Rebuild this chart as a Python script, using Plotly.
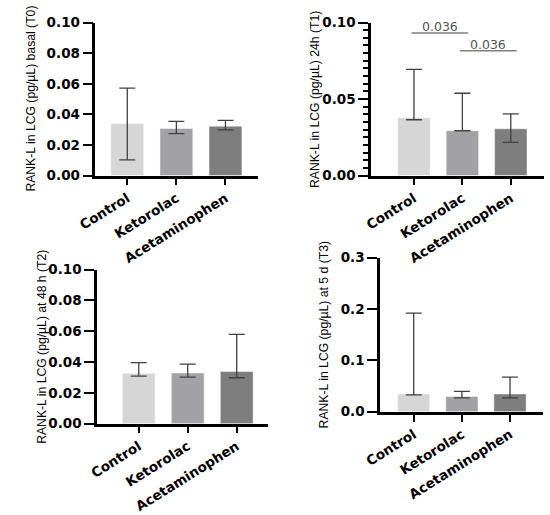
import plotly.graph_objects as go

W, H = 550, 515

categories = ["Control", "Ketorolac", "Acetaminophen"]
bar_colors = ["#d6d6d6", "#a2a1a6", "#7e7e7e"]

# median values and upper/lower bounds (pg/µL)
t0_median = [0.0340, 0.0308, 0.0323]
t0_upper = [0.0571, 0.0354, 0.0361]
t0_lower = [0.0103, 0.0274, 0.0299]

t1_median = [0.0378, 0.0293, 0.0306]
t1_upper = [0.0694, 0.0538, 0.0403]
t1_lower = [0.0365, 0.0293, 0.0217]

t2_median = [0.0327, 0.0329, 0.0338]
t2_upper = [0.0396, 0.0386, 0.0580]
t2_lower = [0.0308, 0.0302, 0.0298]

t3_median = [0.0347, 0.0296, 0.0347]
t3_upper = [0.1920, 0.0396, 0.0674]
t3_lower = [0.0330, 0.0270, 0.0270]

y_titles = [
    "RANK-L in LCG (pg/µL) basal (T0)",
    "RANK-L in LCG (pg/µL) 24h (T1)",
    "RANK-L in LCG (pg/µL) at 48 h (T2)",
    "RANK-L in LCG (pg/µL) at 5 d (T3)",
]

# significance comparisons in panel T1: (group a, group b, p-value label, height)
t1_comparisons = [
    ("Control", "Ketorolac", "0.036", 0.0932),
    ("Ketorolac", "Acetaminophen", "0.036", 0.0816),
]

panels = [
    dict(med=t0_median, up=t0_upper, lo=t0_lower, yr=[0, 0.10], dt=0.02, fmt=".2f",
         px=(80, 248), py=(15, 173), xr=[-0.65, 2.66], title_x=14, minor=False),
    dict(med=t1_median, up=t1_upper, lo=t1_lower, yr=[0, 0.10], dt=0.05, fmt=".2f",
         px=(365, 544), py=(15, 173), xr=[-0.886, 2.69], title_x=307, minor=True),
    dict(med=t2_median, up=t2_upper, lo=t2_lower, yr=[0, 0.10], dt=0.02, fmt=".2f",
         px=(81.7, 258), py=(270, 429), xr=[-0.852, 2.63], title_x=24, minor=False),
    dict(med=t3_median, up=t3_upper, lo=t3_lower, yr=[0, 0.30], dt=0.1, fmt=".1f",
         px=(374.3, 543), py=(257.7, 416.7), xr=[-0.70, 2.69], title_x=316, minor=False),
]

fig = go.Figure()
layout = dict(
    width=W, height=H,
    margin=dict(l=0, r=0, t=0, b=0),
    paper_bgcolor="white", plot_bgcolor="white",
    showlegend=False,
    annotations=[], shapes=[],
)

ytick_font = dict(family="DejaVu Sans", size=13.5, color="black", weight="bold")
xtick_font = dict(family="DejaVu Sans", size=13.5, color="black", weight="bold")

for i, p in enumerate(panels):
    n = i + 1
    xa = "x" if n == 1 else f"x{n}"
    ya = "y" if n == 1 else f"y{n}"
    plus = [u - m for u, m in zip(p["up"], p["med"])]
    minus = [m - l for m, l in zip(p["med"], p["lo"])]
    fig.add_trace(go.Bar(
        x=categories, y=p["med"], xaxis=xa, yaxis=ya,
        marker=dict(color=bar_colors, line=dict(color="rgba(255,255,255,0.6)", width=0.8)),
        width=0.67,
        error_y=dict(type="data", symmetric=False, array=plus, arrayminus=minus,
                     color="#404040", thickness=1.3, width=8),
        hoverinfo="skip",
    ))
    x0, x1 = p["px"][0] / W, p["px"][1] / W
    ytop, ybot = 1 - p["py"][0] / H, 1 - p["py"][1] / H
    xkey = "xaxis" if n == 1 else f"xaxis{n}"
    ykey = "yaxis" if n == 1 else f"yaxis{n}"
    layout[xkey] = dict(
        domain=[x0, x1], anchor=ya, type="category", range=p["xr"],
        showline=True, linecolor="black", linewidth=2.5,
        ticks="outside", ticklen=7, tickwidth=2, tickcolor="black",
        tickangle=-32, tickfont=xtick_font, showgrid=False, zeroline=False,
    )
    yax = dict(
        domain=[ybot, ytop], anchor=xa, range=p["yr"], dtick=p["dt"], tick0=0,
        tickformat=p["fmt"], showline=True, linecolor="black", linewidth=2.5,
        ticks="outside", ticklen=10, tickwidth=2, tickcolor="black",
        tickfont=ytick_font, showgrid=False, zeroline=False,
    )
    if p["minor"]:
        yax["minor"] = dict(dtick=0.005, ticks="outside", ticklen=5, tickwidth=1.5,
                            tickcolor="black", showgrid=False)
    layout[ykey] = yax
    layout["annotations"].append(dict(
        text=y_titles[i], xref="paper", yref="paper",
        x=p["title_x"] / W, y=(ytop + ybot) / 2, textangle=-90,
        showarrow=False, xanchor="center", yanchor="middle",
        font=dict(family="Liberation Sans", size=12.2, color="black"),
    ))

# significance brackets in T1 panel
for a, b, lab, h in t1_comparisons:
    ia, ib = categories.index(a), categories.index(b)
    xs, xe = ia - 0.05, ib + 0.12
    layout["shapes"].append(dict(
        type="line", xref="x2", yref="y2", x0=xs, x1=xe, y0=h, y1=h,
        line=dict(color="#808080", width=1.5),
    ))
    layout["annotations"].append(dict(
        text=lab, xref="x2", yref="y2", x=(xs + xe) / 2, y=h,
        showarrow=False, xanchor="center", yanchor="middle", yshift=6,
        font=dict(family="DejaVu Sans", size=12.5, color="#555555"),
    ))

fig.update_layout(**layout)
fig.write_html(
    "out.html",
    config={"displayModeBar": False},
    post_script="document.body.style.margin='0';document.body.style.overflow='hidden';",
)
